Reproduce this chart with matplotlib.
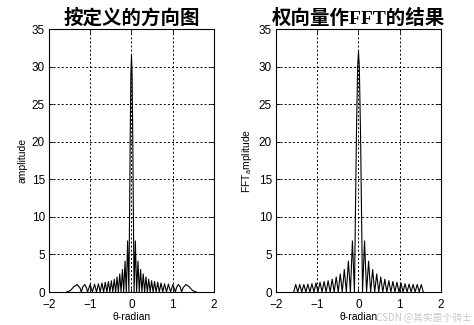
import matplotlib.pyplot as plt
import numpy as np

plt.rcParams['font.family'] = ['Liberation Sans', 'DejaVu Sans']
plt.rcParams['mathtext.fontset'] = 'custom'
plt.rcParams['mathtext.rm'] = 'Liberation Sans'
plt.rcParams['mathtext.it'] = 'Liberation Sans'

# 按定义的方向图: vertices of the curve, positive side (theta in rad)
def_theta = [0.0, 0.015, 0.03, 0.045, 0.063, 0.094, 0.125, 0.157, 0.189, 0.220,
             0.253, 0.285, 0.318, 0.351, 0.384, 0.418, 0.453, 0.488, 0.524, 0.560,
             0.597, 0.636, 0.675, 0.716, 0.758, 0.802, 0.848, 0.896, 0.948, 1.004,
             1.065, 1.09, 1.132, 1.18, 1.216, 1.25, 1.318, 1.40, 1.48, 1.571]
def_amp = [31.5, 29, 21, 11, 0, 6.8, 0, 4.1, 0, 3.0,
           0, 2.4, 0, 2.0, 0, 1.7, 0, 1.5, 0, 1.4,
           0, 1.3, 0, 1.2, 0, 1.1, 0, 1.05, 0, 1.0,
           0, 0.55, 1.0, 0.7, 0, 0.55, 1.0, 0.7, 0.2, 0]

# 权向量作FFT的结果: vertices of the curve, positive side
fft_theta = [0.0, 0.02, 0.05, 0.075, 0.098, 0.147, 0.196, 0.245, 0.295, 0.344,
             0.393, 0.442, 0.491, 0.540, 0.589, 0.638, 0.687, 0.736, 0.785, 0.834,
             0.884, 0.933, 0.982, 1.031, 1.080, 1.129, 1.178, 1.227, 1.276, 1.325,
             1.374, 1.424, 1.473, 1.522, 1.571]
fft_amp = [32, 30, 21, 10, 0, 6.8, 0, 4.1, 0, 3.0,
           0, 2.4, 0, 2.0, 0, 1.7, 0, 1.5, 0, 1.4,
           0, 1.3, 0, 1.2, 0, 1.1, 0, 1.05, 0, 1.0,
           0, 1.0, 0, 1.0, 0]

titles = ['按定义的方向图', '权向量作FFT的结果']
ylabels = ['amplitude', 'FFT$_{\\rm a}$mplitude']
xticks = [-2, -1, 0, 1, 2]
yticks = [0, 5, 10, 15, 20, 25, 30, 35]


def mirror(t, a):
    t = np.asarray(t)
    a = np.asarray(a)
    return np.concatenate([-t[::-1], t[1:]]), np.concatenate([a[::-1], a[1:]])


fig = plt.figure(figsize=(4.74, 3.25), dpi=100)
axes = [fig.add_axes([0.1034, 0.1015, 0.348, 0.809]),
        fig.add_axes([0.5823, 0.1015, 0.348, 0.809])]
curves = [mirror(def_theta, def_amp), mirror(fft_theta, fft_amp)]

for ax, (t, a), title, ylab in zip(axes, curves, titles, ylabels):
    ax.plot(t, a, color='black', lw=0.8)
    ax.set_xlim(-2, 2)
    ax.set_ylim(0, 35)
    ax.set_xticks(xticks)
    ax.set_yticks(yticks)
    ax.grid(True, color='black', linestyle=(0, (2, 2.2)), lw=0.7)
    ax.tick_params(direction='in', length=3, width=0.6, labelsize=8.5,
                   top=True, right=True)
    ax.tick_params(axis='x', pad=5)
    ax.tick_params(axis='y', pad=3)
    for s in ax.spines.values():
        s.set_linewidth(0.8)
    ax.set_title(title, family=['Liberation Serif', 'Noto Sans CJK SC'],
                 fontweight='bold', fontsize=14, pad=4)
    ax.set_xlabel('θ-radian', fontsize=7.5, labelpad=1)
    ax.set_ylabel(ylab, fontsize=7.5, labelpad=3)

# watermark
fig.text(0.995, 0.022, 'CSDN @其实是个骑士', ha='right', va='center',
         fontsize=7, color='#c8c8c8', family=['Noto Sans CJK SC', 'DejaVu Sans'])

fig.savefig('out.png', dpi=100, facecolor='white')
